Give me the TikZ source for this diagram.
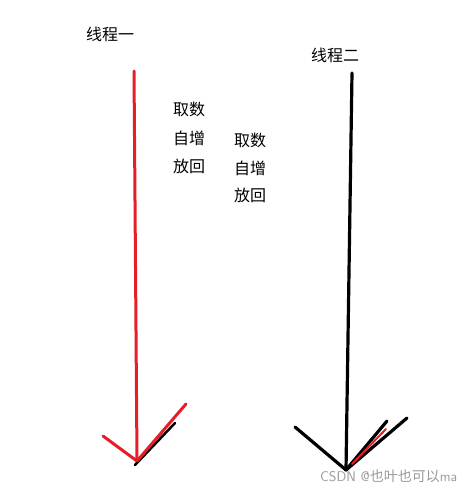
\documentclass[tikz,border=0pt]{standalone}
\usepackage{fontspec}
\newfontfamily\cjk{Noto Sans CJK SC}
\begin{document}
\begin{tikzpicture}[x=1pt,y=-1pt]

\tikzstyle{t} = [font=\cjk\fontsize{16}{19}\selectfont, inner sep=0pt]
\tikzstyle{redpen} = [draw={rgb,255:red,230;green,30;blue,40}, line width=3pt, line cap=round]
\tikzstyle{blackpen} = [draw=black, line width=3.2pt, line cap=round]
\tikzstyle{wmark} = [font=\sffamily\fontsize{14}{16}\selectfont, text=black!40, inner sep=0pt]

\useasboundingbox (0,0) rectangle (474,489);

% labels
\node[t] (name1) at (110,34) {线程一};
\node[t] (name2) at (335,55) {线程二};
\node[t] (a1) at (189,109) {取数};
\node[t] (a2) at (189,138) {自增};
\node[t] (a3) at (189,166) {放回};
\node[t] (b1) at (250,140) {取数};
\node[t] (b2) at (250,168) {自增};
\node[t] (b3) at (250,195) {放回};

% thread one
\coordinate (top1) at (134,71);
\coordinate (tip1) at (137,461);
\coordinate (l1) at (103,436);
\coordinate (r1) at (186,404);
\draw[redpen] (top1) -- (tip1);
\draw[redpen] (l1) -- (tip1);
\draw[blackpen, line width=2.5pt] (175,423) -- (135,465);
\draw[redpen] (r1) -- (tip1);

% thread two
\coordinate (top2) at (352,73);
\coordinate (tip2) at (346,470);
\coordinate (l2) at (295,427);
\coordinate (r2) at (387,421);
\coordinate (rr2) at (407,418);
\draw[blackpen] (top2) -- (tip2);
\draw[blackpen] (l2) -- (tip2);
\draw[blackpen] (r2) -- (tip2);
\draw[blackpen] (rr2) -- (tip2);
\draw[redpen, line width=2pt] (386,429) -- (352,464);

\node[wmark, anchor=west] (wm) at (320,476) {CSDN @\cjk 也叶也可以\sffamily ma};

\end{tikzpicture}
\end{document}
